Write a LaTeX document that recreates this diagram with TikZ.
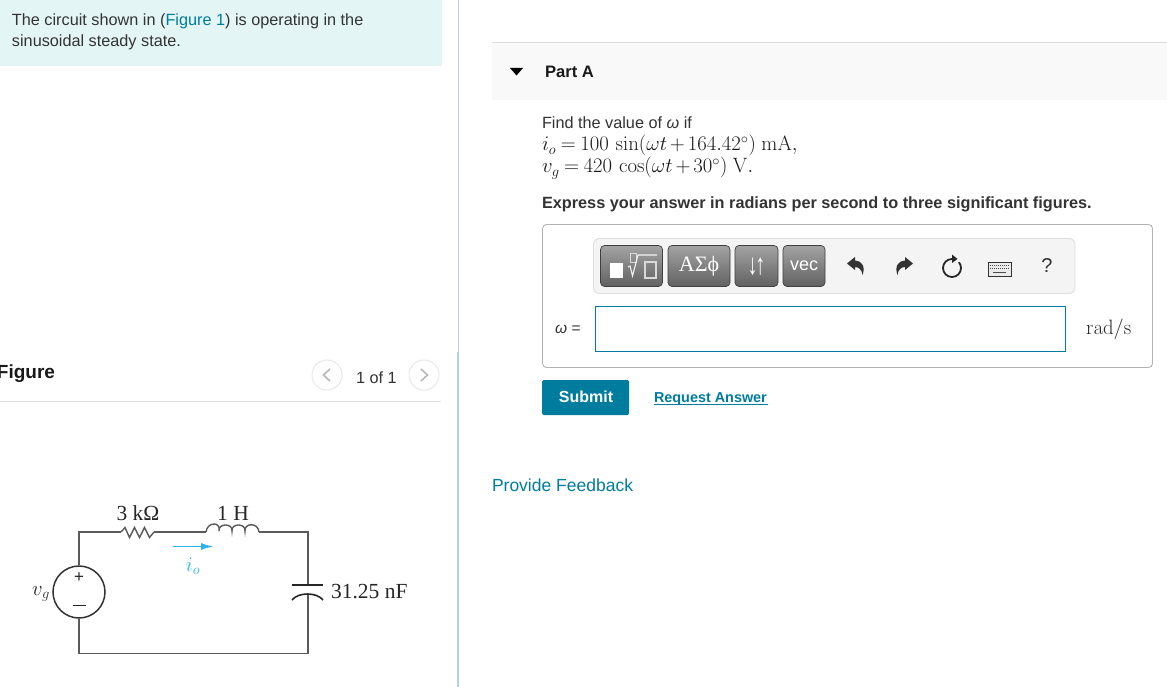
\documentclass[tikz,border=0pt]{standalone}
\usepackage[no-math]{fontspec}
\setmainfont{Liberation Sans}
\newfontfamily\serifx{Liberation Serif}
\usetikzlibrary{arrows.meta,shadings}
\definecolor{txt}{HTML}{333333}
\definecolor{teal}{HTML}{007C9E}
\definecolor{noteb}{HTML}{E4F5F6}
\definecolor{rulec}{HTML}{DDDDDD}
\definecolor{sep}{HTML}{BACDE1}
\definecolor{wirec}{HTML}{5A5A5A}
\definecolor{sky}{HTML}{2BB3EE}
\newcommand{\tightmath}{\thickmuskip=4mu plus 0mu\relax\medmuskip=2.5mu plus 0mu\relax}
\tikzset{
  x=1pt,y=-1pt,
  lbl/.style={anchor=base west,inner sep=0pt,outer sep=0pt,text=txt,font=\fontsize{16.25}{19}\selectfont},
  blbl/.style={lbl,font=\fontsize{16.27}{19}\selectfont\bfseries},
  eqn/.style={lbl,text=black!90,font=\fontsize{19.7}{22}\selectfont},
  clbl/.style={inner sep=0pt,outer sep=0pt,text=black!85,font=\fontsize{21.5}{24}\selectfont\serifx},
  wire/.style={draw=wirec,line width=1.4pt},
  tool/.style={rounded corners=4pt,draw=black!75,line width=.7pt,top color=black!36,bottom color=black!62},
  ico/.style={fill=black!80,draw=none},
  navc/.style={circle,draw=black!9,line width=1pt,minimum size=30pt,inner sep=0pt},
  navg/.style={draw=black!28,line width=1.6pt}
}
\begin{document}
\begin{tikzpicture}
\useasboundingbox (0,0) rectangle (1167,687);
\fill[white] (0,0) rectangle (1167,687);
% left panel
\fill[noteb] (0,0) rectangle (442,66);
\node[lbl] (t1) at (12,26) {The circuit shown in (\textcolor{teal}{Figure 1}) is operating in the};
\node[lbl] (t2) at (12,47) {sinusoidal steady state.};
\fill[sep] (458,0) rectangle (459.2,352);
\fill[sep] (457,352) rectangle (459.2,687);
\node[lbl,font=\fontsize{19}{21}\selectfont\bfseries,text=black!90] (fig) at (-3,378) {Figure};
\draw[rulec,line width=.8pt] (0,401) -- (441,401);
\node[navc] (prev) at (327,375) {};
\node[navc] (next) at (424,375) {};
\draw[navg] (330,369) -- (323.5,375) -- (330,381);
\draw[navg] (421,369) -- (427.5,375) -- (421,381);
\node[lbl] (of) at (356,383) {1 of 1};
% circuit
\node[circle,draw=black!80,line width=1.5pt,minimum size=52pt,inner sep=0pt] (vs) at (79,592) {};
\coordinate (tl) at (79,532);
\coordinate (tr) at (308,532);
\coordinate (bl) at (79,653.5);
\coordinate (br) at (308,653.5);
\coordinate (ra) at (121,532);
\coordinate (rb) at (154,532);
\coordinate (la) at (206,532);
\coordinate (lb) at (259,532);
\coordinate (ca) at (308,585);
\coordinate (cb) at (308,594);
\draw[wire] (vs.north) -- (tl) -- (ra);
\draw[wire] (ra) -- ++(4,-4.5) -- ++(4.5,10) -- ++(5,-10) -- ++(5,10) -- ++(5,-10) -- ++(5,10) -- ++(4.5,-5.5) -- (rb);
\draw[wire] (rb) -- (la);
\draw[wire] (la) .. controls +(1,-10) and +(2,-10) .. ++(13,-1)
  .. controls +(-1,-8) and +(1,-8) .. ++(13,0)
  .. controls +(-1,-8) and +(1,-8) .. ++(13,0)
  .. controls +(-1,-8) and +(-1,-10) .. (lb);
\draw[wire] (lb) -- (tr) -- (ca);
\draw[wire] (cb) -- (br) -- (bl) -- (vs.south);
\draw[black!85,line width=1.6pt] (292,585) -- (323,585);
\draw[black!85,line width=1.6pt] (292,600) .. controls (298,592) and (317,592) .. (323,600);
\node[clbl] (l3k) at (138,513) {3 kΩ};
\node[clbl] (l1h) at (233,513) {1 H};
\node[clbl,anchor=west] (lc) at (331,592) {31.25 nF};
\node[inner sep=0pt,text=black!85,font=\fontsize{21}{22}\selectfont] (lvg) at (41,594) {$v_g$};
\node[inner sep=0pt,text=black!85,font=\fontsize{17}{18}\selectfont] (plus) at (79,578) {+};
\draw[black!85,line width=1.1pt] (73,605.5) -- (86,605.5);
\coordinate (ia) at (173,546.5);
\coordinate (ib) at (213,546.5);
\draw[sky,line width=1.2pt,-{Latex[length=12pt,width=7pt]}] (ia) -- (ib);
\node[inner sep=0pt,text=sky,font=\fontsize{21}{22}\selectfont] (io) at (193,566) {$i_o$};
% part A
\fill[black!2.5] (492,43) rectangle (1167,100);
\draw[rulec,line width=.8pt] (492,42.5) -- (1167,42.5);
\fill[black] (510,68) -- (523,68) -- (516.5,75.5) -- cycle;
\node[blbl,text=black!90,font=\fontsize{16.6}{19}\selectfont\bfseries] (pa) at (545,78) {Part A};
\node[lbl] (find) at (542,129) {Find the value of \textit{ω} if};
\node[eqn] (e1) at (542,151) {\tightmath$i_o = 100\,\sin(\omega t + 164.42^\circ)\ \mathrm{mA,}$};
\node[eqn] (e2) at (542,173) {\tightmath$v_g = 420\,\cos(\omega t + 30^\circ)\ \mathrm{V.}$};
\node[blbl] (ex) at (542,208) {Express your answer in radians per second to three significant figures.};
% answer box
\draw[black!30,line width=.9pt,rounded corners=4pt] (542.5,224.5) rectangle (1152.5,367.5);
\draw[black!13,fill=black!4.5,line width=.9pt,rounded corners=6pt] (593.5,238.5) rectangle (1075,293.5);
\path[tool] (600.5,245.5) rectangle (662.5,286.5);
\path[tool] (668,245.5) rectangle (730,286.5);
\path[tool] (735,245.5) rectangle (778,286.5);
\path[tool] (783,245.5) rectangle (825,286.5);
\fill[white] (610,263) rectangle (623,278);
\draw[black!15,line width=1pt] (630.5,253) rectangle (636.5,262);
\draw[black!5,line width=1.1pt] (628,267) -- (630,266) -- (632.5,276) -- (638,255) -- (657,255);
\draw[black!15,line width=1.1pt] (645,262) rectangle (656,278);
\node[inner sep=0pt,text=white,font=\fontsize{22}{24}\selectfont\serifx] (greek) at (699,266) {ΑΣϕ};
\node[inner sep=0pt,text=white,font=\fontsize{19}{22}\selectfont] (arr) at (756.5,266.5) {\scalebox{1.05}[1.55]{↓\kern-2pt↑}};
\node[inner sep=0pt,text=white,font=\fontsize{18}{20}\selectfont] (vec) at (804,266) {vec};
% undo
\fill[ico] (847,263.5) -- (855,257) -- (855,260.5) .. controls (861,260.5) and (866,266) .. (862.5,275)
  .. controls (862,270) and (859,267) .. (855,267) -- (855,270) -- cycle;
% redo
\fill[ico] (913,263.5) -- (905,257) -- (905,260.5) .. controls (899,260.5) and (894,266) .. (897.5,275)
  .. controls (898,270) and (901,267) .. (905,267) -- (905,270) -- cycle;
% reload
\draw[black!85,line width=1.8pt] (952,268)++(-90:9) arc[start angle=-90,end angle=-400,radius=9];
\fill[black!85] (952,254.5) -- (957.5,259) -- (952,263) -- cycle;
% keyboard
\draw[black!80,fill=black!8,line width=1pt] (988,262) rectangle (1011,276);
\foreach \yy in {265.5,268.5}{\draw[black!70,line width=1.6pt,dash pattern=on 1.2pt off .8pt] (990,\yy) -- (1009,\yy);}
\draw[black!70,line width=1.4pt] (993,272.5) -- (1006,272.5);
\node[inner sep=0pt,text=txt,font=\fontsize{20}{22}\selectfont] (help) at (1047,266) {?};
% input
\node[inner sep=0pt,text=txt,font=\fontsize{15.5}{17}\selectfont,anchor=base west] (om) at (555,333) {\textit{ω} =};
\draw[teal,line width=1pt,fill=white] (595.5,306.5) rectangle (1065,351.5);
\node[anchor=base west,inner sep=0pt,text=black!85,font=\fontsize{19.7}{22}\selectfont] (unit) at (1086,334) {$\mathrm{rad/s}$};
% buttons
\fill[teal,rounded corners=1.5pt] (542,380) rectangle (629,415);
\node[inner sep=0pt,text=white,font=\fontsize{16}{18}\selectfont\bfseries,anchor=base] (sub) at (586,402) {Submit};
\node[lbl,text=teal,font=\fontsize{14.4}{16}\selectfont\bfseries] (req) at (654,402) {Request Answer};
\draw[teal,line width=.8pt] (req.base west)++(0,2) -- ++(114,0);
\node[lbl,text=teal,font=\fontsize{17.5}{20}\selectfont] (fb) at (492,491) {Provide Feedback};
\end{tikzpicture}
\end{document}
